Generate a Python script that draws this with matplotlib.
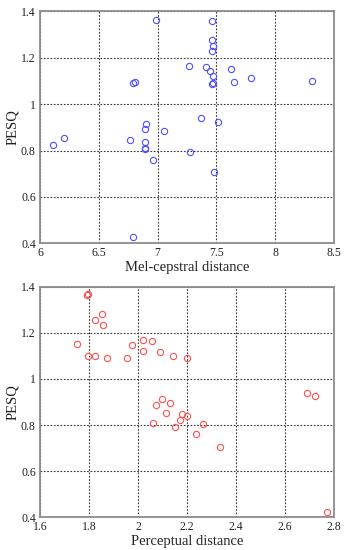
import matplotlib
matplotlib.use('Agg')
import matplotlib.pyplot as plt

plt.rcParams['font.family'] = ['Liberation Serif', 'DejaVu Serif']

# Mel-cepstral distance vs PESQ
mcd = [6.986, 7.465, 7.460, 7.474, 7.465, 7.264, 7.414, 7.448, 7.468, 7.621,
       7.650, 7.794, 8.316, 7.465, 7.468, 6.790, 6.805, 7.369, 7.511, 6.899,
       6.893, 7.054, 6.204, 6.113, 6.765, 6.890, 6.893, 6.896, 6.958, 7.276,
       7.476, 6.788]
pesq_mcd = [1.365, 1.357, 1.276, 1.252, 1.230, 1.164, 1.161, 1.144, 1.121, 1.150,
            1.097, 1.114, 1.100, 1.088, 1.090, 1.093, 1.097, 0.941, 0.925, 0.914,
            0.893, 0.885, 0.855, 0.822, 0.847, 0.837, 0.807, 0.809, 0.760, 0.792,
            0.708, 0.429]

# Perceptual distance vs PESQ
pd_ = [1.797, 1.792, 1.853, 1.824, 1.856, 1.751, 1.976, 2.019, 2.056, 2.019,
       2.091, 1.797, 1.823, 1.872, 1.955, 2.143, 2.200, 2.691, 2.724, 2.099,
       2.075, 2.129, 2.113, 2.178, 2.200, 2.173, 2.060, 2.267, 2.150, 2.237,
       2.333, 2.770]
pesq_pd = [1.368, 1.363, 1.280, 1.256, 1.235, 1.153, 1.146, 1.168, 1.165, 1.122,
           1.117, 1.099, 1.099, 1.092, 1.092, 1.101, 1.089, 0.940, 0.926, 0.914,
           0.886, 0.894, 0.853, 0.847, 0.838, 0.823, 0.809, 0.806, 0.792, 0.759,
           0.706, 0.424]

fig = plt.figure(figsize=(3.47, 5.5), dpi=100)
ax1 = fig.add_axes([0.1153, 0.5577, 0.847, 0.4214])
ax2 = fig.add_axes([0.1153, 0.0595, 0.847, 0.4193])


def style(ax, xlim, xticks, xticklabels, xlabel):
	ax.set_xlim(*xlim)
	ax.set_ylim(0.4, 1.4)
	ax.set_xticks(xticks)
	ax.set_xticklabels(xticklabels)
	ax.set_yticks([0.4, 0.6, 0.8, 1.0, 1.2, 1.4])
	ax.set_yticklabels(['0.4', '0.6', '0.8', '1', '1.2', '1.4'])
	ax.grid(True, color='#333333', ls=(0, (1.5, 1.5)), lw=0.8)
	ax.tick_params(length=0, labelsize=8.5, colors='#222222')
	ax.tick_params(axis='x', pad=3)
	ax.tick_params(axis='y', pad=3)
	for s in ax.spines.values():
		s.set_color('#8c8c8c')
		s.set_linewidth(1.3)
	ax.set_xlabel(xlabel, fontsize=10.5, labelpad=1, color='#222222')
	ax.set_ylabel('PESQ', fontsize=10.5, labelpad=1, color='#222222')


ax1.plot(mcd, pesq_mcd, ls='None', marker='o', markersize=4.5, markerfacecolor='none',
         markeredgecolor='#5050ff', markeredgewidth=0.8, clip_on=False)
style(ax1, (6, 8.5), [6, 6.5, 7, 7.5, 8, 8.5], ['6', '6.5', '7', '7.5', '8', '8.5'],
      'Mel-cepstral distance')

ax2.plot(pd_, pesq_pd, ls='None', marker='o', markersize=4.5, markerfacecolor='none',
         markeredgecolor='#ff5050', markeredgewidth=0.8, clip_on=False)
style(ax2, (1.6, 2.8), [1.6, 1.8, 2.0, 2.2, 2.4, 2.6, 2.8],
      ['1.6', '1.8', '2', '2.2', '2.4', '2.6', '2.8'], 'Perceptual distance')

fig.savefig('out.png', dpi=100)
